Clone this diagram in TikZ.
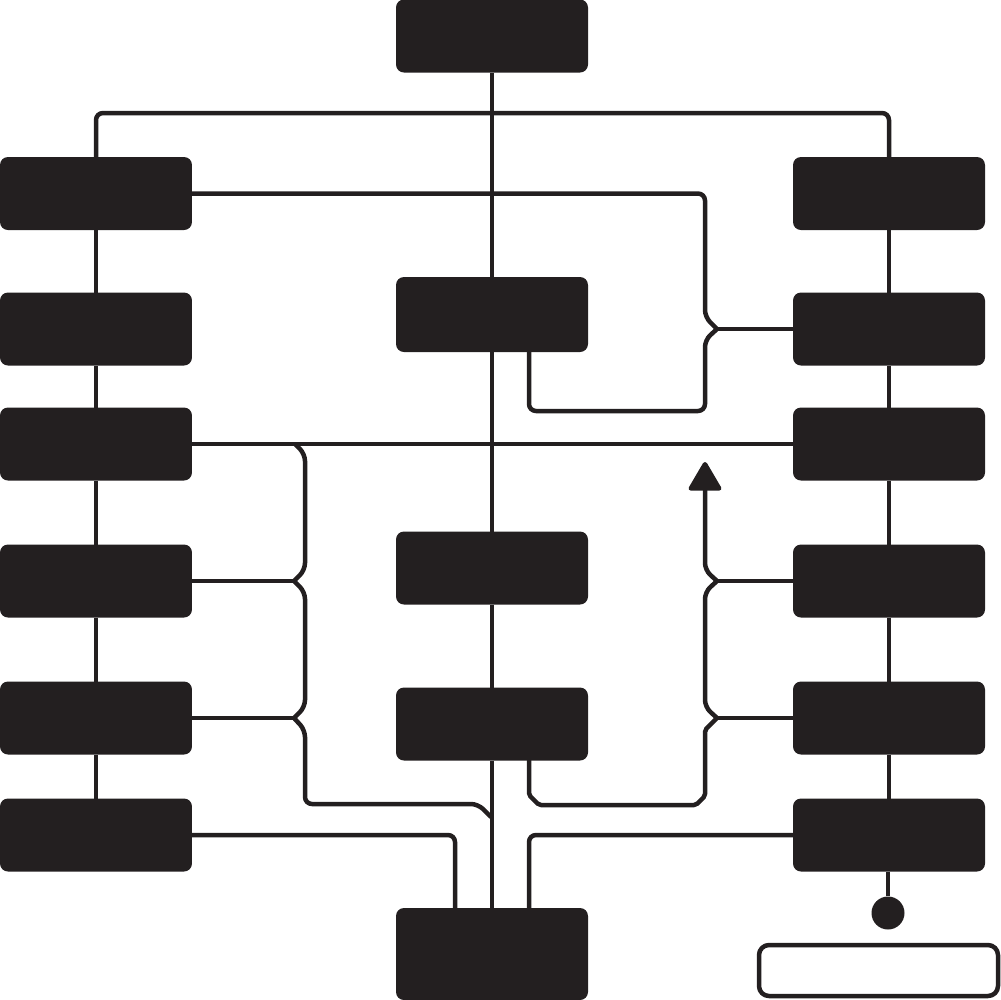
\documentclass[tikz,border=0pt]{standalone}
\usepackage[usenames]{xcolor}
\usetikzlibrary{arrows.meta}
\definecolor{ink}{HTML}{231F20}
\tikzset{my_chart/.style={x=0.1mm,y=-0.1mm,line join=round}}
\tikzset{my_box/.style={rectangle, fill=ink, rounded corners=0.8mm, inner sep=0pt, outer sep=0pt, minimum width=19.2mm, minimum height=7.3mm}}
\tikzset{my_wire/.style={draw=ink, line width=0.45mm, rounded corners=0.7mm}}
\tikzset{my_arrow/.style={-{Triangle[length=3.1mm,width=3.5mm,round]}}}

\begin{document}
\begin{tikzpicture}[my_chart]
    %\draw[help lines] (0,0) grid (1000,1000);
    \useasboundingbox (0,0) rectangle (1000,1000);

    \node[my_box] (top) at (492,36) {};
    \node[my_box, minimum height=7.5mm] (mid1) at (492,314.5) {};
    \node[my_box] (mid2) at (492,568) {};
    \node[my_box] (mid3) at (492,724) {};
    \node[my_box, minimum height=9.2mm] (bottom) at (492,954) {};

    \node[my_box] (left1) at (96,193.5) {};
    \node[my_box] (left2) at (96,329) {};
    \node[my_box] (left3) at (96,444) {};
    \node[my_box] (left4) at (96,581) {};
    \node[my_box] (left5) at (96,718) {};
    \node[my_box] (left6) at (96,835) {};

    \node[my_box] (right1) at (889,193.5) {};
    \node[my_box] (right2) at (889,329) {};
    \node[my_box] (right3) at (889,444) {};
    \node[my_box] (right4) at (889,581) {};
    \node[my_box] (right5) at (889,718) {};
    \node[my_box] (right6) at (889,835) {};

    \node[circle, fill=ink, inner sep=0pt, minimum size=3.3mm] (dot) at (888,913) {};
    \node[rectangle, draw=ink, fill=white, line width=0.45mm, rounded corners=1mm, inner sep=0pt,
        minimum width=23.9mm, minimum height=5.1mm] (legend) at (878.5,970.5) {};

    \coordinate (bus) at (492,113);
    \coordinate (tip_r2) at (717,329);
    \coordinate (tip_r4) at (717,581);
    \coordinate (tip_r5) at (717,718);
    \coordinate (tip_l4) at (294,581);
    \coordinate (tip_l5) at (294,718);
    \coordinate (branch) at (295,444);
    \coordinate (merge) at (491,817);
    \coordinate (arrow_end) at (705,462);

    \path[my_wire]
        (top) edge (mid1)
        (mid1) edge (mid2)
        (mid2) edge (mid3)
        (mid3) edge (bottom)
        (left1) edge (left2)
        (left2) edge (left3)
        (left3) edge (left4)
        (left4) edge (left5)
        (left5) edge (left6)
        (right1) edge (right2)
        (right2) edge (right3)
        (right3) edge (right4)
        (right4) edge (right5)
        (right5) edge (right6)
        (right6.south -| dot) edge (dot)
        (left3) edge (right3)
        (right2) edge (tip_r2)
        (right4) edge (tip_r4)
        (right5) edge (tip_r5)
        (left4) edge (tip_l4)
        (left5) edge (tip_l5)
    ;

    \draw[my_wire] (left1.north) |- (bus) -| (right1.north);
    \draw[my_wire] (left1.east) -- (705,193.5) -- (705,317) -- (tip_r2);
    \draw[my_wire] (tip_r2) -- (705,340) -- (705,411) -- (529,411) -- (529,352);
    \draw[my_wire] (branch) -- (305,454) -- (305,570) -- (tip_l4);
    \draw[my_wire] (tip_l4) -- (305,592) -- (305,707) -- (tip_l5);
    \draw[my_wire] (tip_l5) -- (305,730) -- (305,804) -- (478,804) -- (merge);
    \draw[my_wire] (left6.east) -- (455,835) -- (455,908);
    \draw[my_wire] (right6.west) -- (529,835) -- (529,908);
    \draw[my_wire, rounded corners=0.2mm] (529,760) -- (529,795) -- (539,805) -- (696,805) -- (705,796) -- (705,730) -- (tip_r5);
    \draw[my_wire] (tip_r5) -- (705,707) -- (705,592) -- (tip_r4);
    \draw[my_wire, my_arrow] (tip_r4) -- (705,570) -- (arrow_end);
\end{tikzpicture}
\end{document}
